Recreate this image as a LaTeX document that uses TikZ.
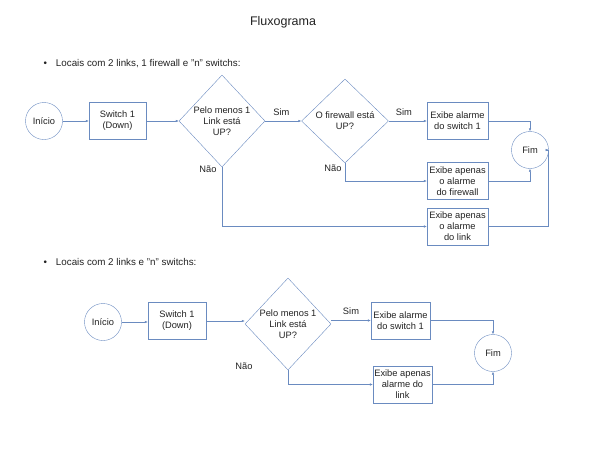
\documentclass[tikz,border=0pt]{standalone}
\usepackage{fontspec}
\setmainfont{Liberation Sans}
\usetikzlibrary{shapes.geometric,arrows.meta}
\definecolor{ln}{HTML}{6A8BC0}
\definecolor{tx}{HTML}{222222}
\begin{document}
\begin{tikzpicture}[x=1pt,y=-1pt,
  every node/.style={font=\fontsize{9.3}{11}\selectfont,align=center,text=tx},
  circ/.style={circle,draw=ln,minimum size=37pt,inner sep=0pt},
  box/.style={draw=ln,minimum width=60pt,minimum height=37pt,inner sep=1pt},
  dia/.style={diamond,draw=ln,minimum width=86pt,minimum height=92pt,inner sep=0pt,aspect=0.93},
  lbl/.style={font=\fontsize{9.3}{11}\selectfont},
  arr/.style={draw=ln,-{Latex[length=3pt,width=2.5pt]}}]
\useasboundingbox (0,0) rectangle (600,450);
\node[font=\fontsize{12.5}{14}\selectfont] (title) at (283,22) {Fluxograma};
\node[anchor=west,font=\fontsize{9.8}{12}\selectfont] (h1) at (40,64) {\textbullet\hspace{9pt}Locais com 2 links, 1 firewall e "n" switchs:};
\node[anchor=west,font=\fontsize{9.8}{12}\selectfont] (h2) at (40,262) {\textbullet\hspace{9pt}Locais com 2 links e "n" switchs:};
% top
\node[circ] (i1) at (44,121) {Início};
\node[box,minimum width=57pt] (s1) at (117.5,121) {Switch 1\\(Down)};
\node[dia] (d1) at (222,121) {Pelo menos 1\\Link está\\UP?};
\node[dia,minimum width=87pt,minimum height=84pt] (d2) at (345,121) {O firewall está\\UP?};
\node[box,minimum width=61pt] (a1) at (457.5,121) {Exibe alarme\\do switch 1};
\node[box,minimum width=61pt] (a2) at (457.5,181) {Exibe apenas\\o alarme\\do firewall};
\node[box,minimum width=61pt] (a3) at (457.5,226.5) {Exibe apenas\\o alarme\\do link};
\node[circ] (f1) at (530,150) {Fim};
\draw[arr] (i1) -- (s1);
\draw[arr] (s1) -- (d1);
\draw[arr] (d1) -- node[lbl,above=2pt,pos=0.45] (sim1) {Sim} (d2);
\draw[arr] (d2) -- node[lbl,above=2pt,pos=0.4] (sim2) {Sim} (a1);
\draw[arr] (d1.south) -- (d1.south |- a3.west) -- (a3.west);
\draw[arr] (d2.south) -- (d2.south |- a2.west) -- (a2.west);
\node[lbl] (nao1) at (208,169) {Não};
\node[lbl] (nao2) at (333,168) {Não};
\draw[arr] (a1.east) -- (a1.east -| f1.north) -- (f1.north);
\draw[arr] (a2.east) -- (a2.east -| f1.south) -- (f1.south);
\coordinate (c1) at (548,226.5);
\draw[arr] (a3.east) -- (c1) |- (f1.east);
% bottom
\node[circ] (i2) at (103,322) {Início};
\node[box,minimum width=58pt] (s2) at (177,321) {Switch 1\\(Down)};
\node[dia] (d3) at (288,324) {Pelo menos 1\\Link está\\UP?};
\node[box,minimum width=59pt] (b1) at (400.5,320.5) {Exibe alarme\\do switch 1};
\node[box,minimum width=59pt] (b2) at (402.5,384.5) {Exibe apenas\\alarme do\\link};
\node[circ] (f2) at (493,353) {Fim};
\draw[arr] (i2) -- (s2.west |- i2);
\draw[arr] (s2.east) -- (s2.east -| d3.west);
\draw[arr] (d3.east |- b1) -- node[lbl,above=2pt] (sim3) {Sim} (b1.west);
\draw[arr] (d3.south) -- (d3.south |- b2.west) -- (b2.west);
\node[lbl] (nao3) at (244,366) {Não};
\draw[arr] (b1.east) -- (b1.east -| f2.north) -- (f2.north);
\draw[arr] (b2.east) -- (b2.east -| f2.south) -- (f2.south);
\end{tikzpicture}
\end{document}
